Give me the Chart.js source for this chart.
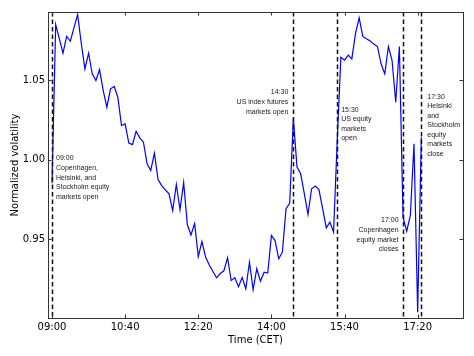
<!DOCTYPE html>
<html>
<head>
<meta charset="utf-8">
<script src="https://cdn.jsdelivr.net/npm/chart.js@4"></script>
<style>
html,body{margin:0;padding:0;background:#fff;}
#c{display:block;}
</style>
</head>
<body>
<canvas id="c" width="474" height="356"></canvas>
<script>
// ---- data ----
const timeLabels = [
 "09:00","09:05","09:10","09:15","09:20","09:25","09:30","09:35","09:40","09:45","09:50","09:55",
 "10:00","10:05","10:10","10:15","10:20","10:25","10:30","10:35","10:40","10:45","10:50","10:55",
 "11:00","11:05","11:10","11:15","11:20","11:25","11:30","11:35","11:40","11:45","11:50","11:55",
 "12:00","12:05","12:10","12:15","12:20","12:25","12:30","12:35","12:40","12:45","12:50","12:55",
 "13:00","13:05","13:10","13:15","13:20","13:25","13:30","13:35","13:40","13:45","13:50","13:55",
 "14:00","14:05","14:10","14:15","14:20","14:25","14:30","14:35","14:40","14:45","14:50","14:55",
 "15:00","15:05","15:10","15:15","15:20","15:25","15:30","15:35","15:40","15:45","15:50","15:55",
 "16:00","16:05","16:10","16:15","16:20","16:25","16:30","16:35","16:40","16:45","16:50","16:55",
 "17:00","17:05","17:10","17:15","17:20","17:25"
];
const volatility = [
 0.985, 1.0849, 1.076, 1.0669, 1.0774, 1.0744, 1.0828, 1.0912, 1.073, 1.057, 1.0669, 1.0539,
 1.0497, 1.0566, 1.0434, 1.0329, 1.0445, 1.046, 1.0392, 1.0214, 1.0224, 1.0103, 1.0094, 1.0178,
 1.0136, 1.0109, 0.9973, 0.9931, 1.0040, 0.9874, 0.9836, 0.9809, 0.9784, 0.9679, 0.9843, 0.9684,
 0.9855, 0.9591, 0.9525, 0.9597, 0.939, 0.9484, 0.9387, 0.9336, 0.9296, 0.9256, 0.9283, 0.930,
 0.9382, 0.9239, 0.9256, 0.920, 0.9258, 0.9187, 0.9354, 0.918, 0.9313, 0.9235, 0.9291, 0.9286,
 0.9522, 0.949, 0.9375, 0.9417, 0.969, 0.9725, 1.026, 0.9952, 0.991, 0.9786, 0.9654, 0.9816,
 0.9833, 0.9811, 0.9692, 0.957, 0.9606, 0.9543, 1.012, 1.0643, 1.0625, 1.0657, 1.0633, 1.0794,
 1.0891, 1.0774, 1.0759, 1.0745, 1.0726, 1.0711, 1.0602, 1.0539, 1.0711, 1.0623, 1.036, 1.0711,
 0.9637, 0.9549, 0.9648, 1.0099, 0.904, 1.014
];
const xTickLabels = ["09:00","10:40","12:20","14:00","15:40","17:20"];
const yTickValues = [0.95, 1.00, 1.05];
// event marker lines (the last one is drawn at the final 5-minute bin, as in the source figure)
const eventLineTimes = ["09:00","14:30","15:30","17:00","17:25"];
const eventTexts = [
 ["09:00","Copenhagen,","Helsinki, and","Stockholm equity","markets open"],
 ["14:30","US index futures","markets open"],
 ["15:30","US equity","markets","open"],
 ["17:00","Copenhagen","equity market","closes"],
 ["17:30","Helsinki","and","Stockholm","equity","markets","close"]
];

// ---- helpers ----
const toMin = s => { const [h,m] = s.split(":").map(Number); return (h-9)*60 + m; };
const fromMin = v => { const t = Math.round(v) + 540; const h = Math.floor(t/60), m = t%60; return String(h).padStart(2,"0")+":"+String(m).padStart(2,"0"); };

const points = timeLabels.map((t,i) => ({x: toMin(t), y: volatility[i]}));

// annotation layout: [dx from event line px, y anchor value, align, line height]
const annLayout = [
 [4, 1.0009, "left", 9.8],
 [-5, 1.0423, "right", 9.7],
 [4, 1.0314, "left", 9.6],
 [-4.5, 0.9616, "right", 9.6],
 [6, 1.0396, "left", 9.5]
];

const framePlugin = {
  id: "frame",
  afterDatasetsDraw(chart) {
    const {ctx, chartArea: a, scales: {x, y}} = chart;
    ctx.save();
    // dashed event lines
    ctx.strokeStyle = "#111";
    ctx.lineWidth = 1.5;
    ctx.setLineDash([4.5, 3]);
    eventLineTimes.forEach(t => {
      const px = Math.round(x.getPixelForValue(toMin(t))) + 0.5;
      ctx.beginPath(); ctx.moveTo(px, a.top); ctx.lineTo(px, a.bottom); ctx.stroke();
    });
    ctx.setLineDash([]);
    // annotations
    ctx.fillStyle = "#1a1a1a";
    ctx.font = "7px 'Liberation Sans', Arial, sans-serif";
    ctx.textBaseline = "middle";
    eventTexts.forEach((lines, i) => {
      const [dx, vy, align, lh] = annLayout[i];
      const px = x.getPixelForValue(toMin(eventLineTimes[i])) + dx;
      const py = y.getPixelForValue(vy);
      ctx.textAlign = align;
      lines.forEach((ln, k) => ctx.fillText(ln, px, py + k*lh));
    });
    // frame
    ctx.strokeStyle = "#333";
    ctx.lineWidth = 1;
    ctx.strokeRect(Math.round(a.left)+0.5, Math.round(a.top)+0.5, Math.round(a.right-a.left), Math.round(a.bottom-a.top));
    // inside ticks
    const tl = 3.5;
    ctx.beginPath();
    xTickLabels.forEach(t => {
      const px = Math.round(x.getPixelForValue(toMin(t))) + 0.5;
      ctx.moveTo(px, a.bottom); ctx.lineTo(px, a.bottom - tl);
      ctx.moveTo(px, a.top); ctx.lineTo(px, a.top + tl);
    });
    yTickValues.forEach(v => {
      const py = Math.round(y.getPixelForValue(v)) + 0.5;
      ctx.moveTo(a.left, py); ctx.lineTo(a.left + tl, py);
      ctx.moveTo(a.right, py); ctx.lineTo(a.right - tl, py);
    });
    ctx.stroke();
    ctx.restore();
  }
};

const font10 = {family: "'DejaVu Sans', sans-serif", size: 10};

new Chart(document.getElementById("c"), {
  type: "line",
  data: {
    datasets: [{
      data: points,
      borderColor: "#0000ff",
      borderWidth: 1.2,
      pointRadius: 0,
      tension: 0,
      fill: false
    }]
  },
  options: {
    responsive: false,
    devicePixelRatio: 1,
    animation: false,
    parsing: true,
    layout: {padding: {top: 12, right: 11, left: 0, bottom: 0}},
    plugins: {legend: {display: false}, tooltip: {enabled: false}},
    scales: {
      x: {
        type: "linear",
        min: -5.5,
        max: 562,
        grid: {display: false, drawTicks: false},
        border: {display: false},
        ticks: {
          font: font10, color: "#000", padding: 3, autoSkip: false, maxRotation: 0,
          callback: v => fromMin(v)
        },
        afterBuildTicks: s => { s.ticks = xTickLabels.map(t => ({value: toMin(t)})); },
        afterFit: s => { s.height = 38; },
        title: {display: true, text: "Time (CET)", font: font10, color: "#000", padding: {top: 0, bottom: 10}}
      },
      y: {
        type: "linear",
        min: 0.9003,
        max: 1.0928,
        grid: {display: false, drawTicks: false},
        border: {display: false},
        ticks: {
          font: font10, color: "#000", padding: 3, autoSkip: false,
          callback: v => Number(v).toFixed(2)
        },
        afterBuildTicks: s => { s.ticks = yTickValues.map(v => ({value: v})); },
        afterFit: s => { s.width = 48; },
        title: {display: true, text: "Normalized volatility", font: font10, color: "#000", padding: {top: 9, bottom: 0}}
      }
    }
  },
  plugins: [framePlugin]
});
</script>
</body>
</html>
